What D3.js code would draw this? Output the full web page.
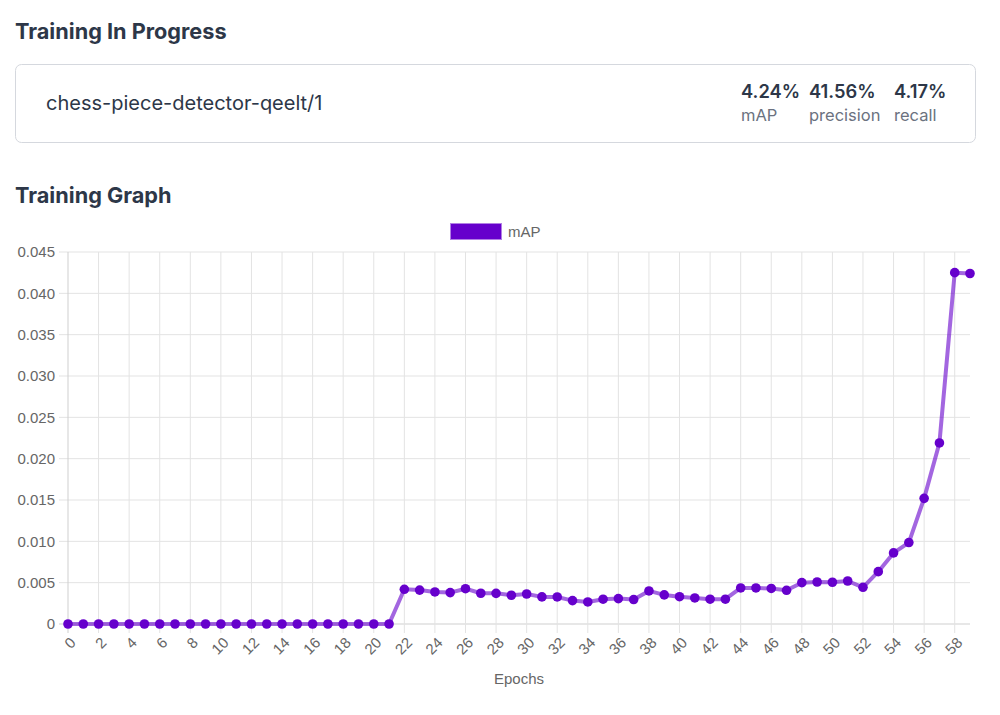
<!DOCTYPE html>
<html>
<head>
<meta charset="utf-8">
<script src="https://cdn.jsdelivr.net/npm/d3@7"></script>
<style>
  html, body { margin: 0; padding: 0; background: #fff; }
  body { width: 1000px; height: 715px; position: relative; overflow: hidden; font-family: Inter, "Noto Sans", sans-serif; }
  svg { position: absolute; left: 0; top: 0; }
</style>
</head>
<body>
<svg id="chart" width="1000" height="715"></svg>
<script>
const pageTitle = "Training In Progress";
const modelName = "chess-piece-detector-qeelt/1";
const metricValues = ["4.24%", "41.56%", "4.17%"];
const metricLabels = ["mAP", "precision", "recall"];
const graphTitle = "Training Graph";
const seriesName = "mAP";
const xTitle = "Epochs";

const epochs = d3.range(0, 60);
const mapValues = [
  0, 0, 0, 0, 0, 0, 0, 0, 0, 0,
  0, 0, 0, 0, 0, 0, 0, 0, 0, 0,
  0, 0, 0.0042, 0.0041, 0.00388, 0.0038, 0.00427, 0.00372, 0.00371, 0.00348,
  0.00363, 0.00328, 0.00327, 0.00283, 0.00267, 0.003, 0.00307, 0.00296, 0.004, 0.00352,
  0.0033, 0.00315, 0.003, 0.003, 0.00436, 0.00436, 0.0043, 0.00408, 0.005, 0.00508,
  0.00505, 0.0052, 0.00444, 0.00633, 0.0086, 0.00985, 0.0152, 0.0219, 0.0425, 0.0424
];
const yTicks = [0, 0.005, 0.01, 0.015, 0.02, 0.025, 0.03, 0.035, 0.04, 0.045];
const yTickLabels = ["0", "0.005", "0.010", "0.015", "0.020", "0.025", "0.030", "0.035", "0.040", "0.045"];

(function () {
const svg = d3.select("#chart");
const dark = "#2d3748";
const tickFont = "'Liberation Sans', Arial, sans-serif";

// Headings
svg.append("text").attr("x", 15).attr("y", 39).text(pageTitle)
  .attr("font-family", "Inter").attr("font-weight", 700).attr("font-size", 21.7).attr("fill", dark);
svg.append("text").attr("x", 15).attr("y", 203).text(graphTitle)
  .attr("font-family", "Inter").attr("font-weight", 700).attr("font-size", 21.7).attr("fill", dark);

// Card
svg.append("rect").attr("x", 15.5).attr("y", 64.5).attr("width", 960).attr("height", 78)
  .attr("rx", 6).attr("fill", "#fff").attr("stroke", "#d5d8de").attr("stroke-width", 1);
svg.append("text").attr("x", 46).attr("y", 110).text(modelName)
  .attr("font-family", "Inter").attr("font-size", 20).attr("fill", dark);

const metricX = [741, 809, 894];
metricValues.forEach((v, i) => {
  svg.append("text").attr("x", metricX[i]).attr("y", 98).text(v)
    .attr("font-family", "Inter").attr("font-weight", 600).attr("font-size", 18.3).attr("fill", dark);
  svg.append("text").attr("x", metricX[i]).attr("y", 121).text(metricLabels[i])
    .attr("font-family", "Inter").attr("font-size", 16.5).attr("fill", "#6b7280");
});

// Chart area
const pL = 68, pR = 970, pT = 252, pB = 624;
const x = d3.scalePoint().domain(epochs).range([pL, pR]);
const y = d3.scaleLinear().domain([0, 0.045]).range([pB, pT]);
const gridColor = "#e3e3e3";

const g = svg.append("g");

g.selectAll("line.hgrid").data(yTicks).enter().append("line")
  .attr("x1", pL - 9).attr("x2", pR)
  .attr("y1", d => y(d)).attr("y2", d => y(d))
  .attr("stroke", d => d === 0 ? "#cfcfcf" : gridColor).attr("stroke-width", 1);

const shownX = epochs.filter(d => d % 2 === 0);
g.selectAll("line.vgrid").data(shownX).enter().append("line")
  .attr("x1", d => x(d)).attr("x2", d => x(d))
  .attr("y1", pT).attr("y2", pB + 9)
  .attr("stroke", d => d === 0 ? "#cfcfcf" : gridColor).attr("stroke-width", 1);

g.selectAll("text.ylab").data(yTicks).enter().append("text")
  .attr("x", 55).attr("y", d => y(d)).attr("dy", "0.35em")
  .attr("text-anchor", "end").text((d, i) => yTickLabels[i])
  .attr("font-family", tickFont).attr("font-size", 15).attr("fill", "#666");

g.selectAll("text.xlab").data(shownX).enter().append("text")
  .attr("transform", d => `translate(${x(d) + 5},${pB + 16}) rotate(-45)`)
  .attr("text-anchor", "end").attr("dy", "0.35em").text(d => d)
  .attr("font-family", tickFont).attr("font-size", 15).attr("fill", "#666");

svg.append("text").attr("x", (pL + pR) / 2).attr("y", 684).attr("text-anchor", "middle")
  .text(xTitle).attr("font-family", tickFont).attr("font-size", 15).attr("fill", "#666");

const data = epochs.map((e, i) => ({ e, v: mapValues[i] }));
g.append("path").datum(data)
  .attr("d", d3.line().x(d => x(d.e)).y(d => y(d.v)))
  .attr("fill", "none").attr("stroke", "rgba(102,0,204,0.6)").attr("stroke-width", 4)
  .attr("stroke-linejoin", "round");

g.selectAll("circle.pt").data(data).enter().append("circle")
  .attr("cx", d => x(d.e)).attr("cy", d => y(d.v)).attr("r", 4.8)
  .attr("fill", "#6600cc");

svg.append("rect").attr("x", 451).attr("y", 224).attr("width", 50).attr("height", 15)
  .attr("fill", "#6600cc").attr("stroke", "rgba(102,0,204,0.5)").attr("stroke-width", 2);
svg.append("text").attr("x", 508).attr("y", 232).attr("dy", "0.35em").text(seriesName)
  .attr("font-family", tickFont).attr("font-size", 15).attr("fill", "#666");
})();
</script>
</body>
</html>
